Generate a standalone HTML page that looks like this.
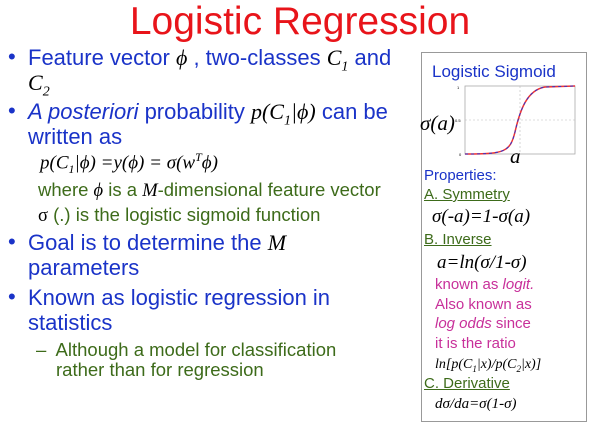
<!DOCTYPE html>
<html><head><style>
body{margin:0;width:600px;height:444px;background:#fff;position:relative;overflow:hidden;font-family:"Liberation Sans",sans-serif}
.a{position:absolute;white-space:nowrap}
.b{color:#1a33c8;font-size:22px}
.s{font-family:"Liberation Serif",serif;font-style:italic}
.g{color:#3d6b1a}
.m{color:#c8309a}
.k{color:#000}
</style></head><body>
<div class="a" style="left:0;width:600px;text-align:center;top:0;font-size:39px;color:#e8141a">Logistic Regression</div>

<div class="a b" style="left:8px;top:44px">•</div>
<div class="a b" style="left:28px;top:45px">Feature vector <span class="s k">ϕ</span> , two-classes <span class="s k">C<sub style="font-size:14px">1</sub></span> and</div>
<div class="a b" style="left:28px;top:70px"><span class="s k">C<sub style="font-size:14px">2</sub></span></div>
<div class="a b" style="left:8px;top:98px">•</div>
<div class="a b" style="left:28px;top:99px"><i>A posteriori</i> probability <span class="s k">p(C<sub style="font-size:14px">1</sub>|ϕ)</span> can be</div>
<div class="a b" style="left:28px;top:124px">written as</div>
<div class="a s k" style="left:40px;top:150px;font-size:19px">p(C<sub style="font-size:12px">1</sub>|ϕ) =y(ϕ) = σ(w<sup style="font-size:12px">T</sup>ϕ)</div>
<div class="a g" style="left:38px;top:179px;font-size:18.5px">where <span class="s k">ϕ</span> is a <span class="s k">M</span>-dimensional feature vector</div>
<div class="a g" style="left:38px;top:204px;font-size:18.5px"><span class="k" style="font-family:'Liberation Serif',serif">σ</span> (.) is the logistic sigmoid function</div>
<div class="a b" style="left:8px;top:229px">•</div>
<div class="a b" style="left:28px;top:230px">Goal is to determine the <span class="s k">M</span></div>
<div class="a b" style="left:28px;top:255px">parameters</div>
<div class="a b" style="left:8px;top:284px">•</div>
<div class="a b" style="left:28px;top:285px">Known as logistic regression in</div>
<div class="a b" style="left:28px;top:310px">statistics</div>
<div class="a g" style="left:36px;top:339px;font-size:18.5px">–&nbsp; Although a model for classification</div>
<div class="a g" style="left:56px;top:359px;font-size:18.5px">rather than for regression</div>

<div class="a" style="left:421px;top:52px;width:164px;height:368px;border:1.5px solid #999"></div>
<div class="a b" style="left:432px;top:62px;font-size:17px">Logistic Sigmoid</div>
<div class="a s k" style="left:420px;top:111px;font-size:21px">σ(a)</div>
<svg class="a" style="left:455px;top:82px" width="130" height="80" viewBox="0 0 130 80">
<rect x="10" y="4" width="110" height="68" fill="none" stroke="#aaa" stroke-width="0.8"/>
<line x1="65" y1="4" x2="65" y2="72" stroke="#bbb" stroke-dasharray="2,2" stroke-width="0.6"/>
<line x1="10" y1="38" x2="120" y2="38" stroke="#bbb" stroke-dasharray="2,2" stroke-width="0.6"/>
<path d="M10 72 C50 72 55 70 60 50 C65 28 72 8 90 5 L120 4" fill="none" stroke="#e33" stroke-width="1.5"/>
<path d="M10 72 C50 72 55 70 60 50 C65 28 72 8 90 5 L120 4" fill="none" stroke="#33c" stroke-width="1" stroke-dasharray="3,3"/>
<text x="2" y="7" font-size="4">1</text><text x="0" y="40" font-size="4">0.5</text><text x="4" y="74" font-size="4">0</text>
</svg>
<div class="a s k" style="left:510px;top:144px;font-size:21px">a</div>
<div class="a b" style="left:424px;top:167px;font-size:15px">Properties:</div>
<div class="a g" style="left:424px;top:186px;font-size:15px;text-decoration:underline">A. Symmetry</div>
<div class="a s k" style="left:432px;top:206px;font-size:19px">σ(-a)=1-σ(a)</div>
<div class="a g" style="left:424px;top:231px;font-size:15px;text-decoration:underline">B. Inverse</div>
<div class="a s k" style="left:437px;top:252px;font-size:19px">a=ln(σ/1-σ)</div>
<div class="a m" style="left:435px;top:276px;font-size:15px">known as <i>logit.</i></div>
<div class="a m" style="left:435px;top:296px;font-size:15px">Also known as</div>
<div class="a m" style="left:435px;top:315px;font-size:15px"><i>log odds</i> since</div>
<div class="a m" style="left:435px;top:335px;font-size:15px">it is the ratio</div>
<div class="a s k" style="left:435px;top:357px;font-size:14px">ln[p(C<sub style="font-size:9px">1</sub>|x)/p(C<sub style="font-size:9px">2</sub>|x)]</div>
<div class="a g" style="left:424px;top:375px;font-size:15px;text-decoration:underline">C. Derivative</div>
<div class="a s k" style="left:435px;top:396px;font-size:15px">dσ/da=σ(1-σ)</div>
</body></html>
